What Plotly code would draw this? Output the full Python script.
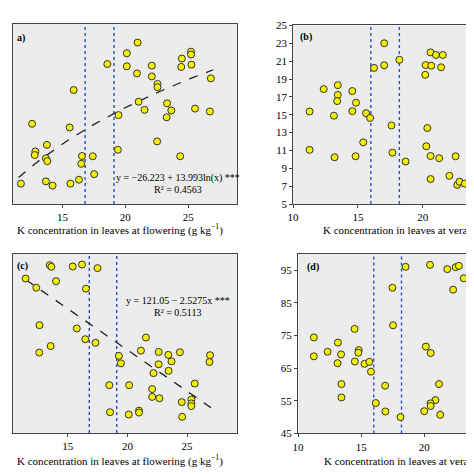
import numpy as np
import plotly.graph_objects as go

# Panel (a): K at flowering vs y (5-25 scale)
a_x = [20.98,20.12,20.12,18.57,20.93,22.11,22.11,22.56,22.56,24.50,24.45,25.23,25.23,25.26,26.81,15.89,21.06,21.53,19.46,23.32,23.66,23.29,25.55,26.73,12.58,15.57,13.76,12.84,12.79,13.68,13.79,16.55,17.41,16.49,19.41,22.53,24.37,17.52,16.31,15.63,13.68,14.21,11.69]
a_y = [22.91,21.72,20.28,20.53,19.49,20.35,19.16,18.33,17.97,21.14,20.21,21.90,21.58,20.46,18.95,17.65,16.35,15.45,14.87,16.17,15.38,14.62,15.59,15.27,13.90,13.50,11.56,10.84,10.44,10.08,9.76,10.33,10.30,9.47,11.02,11.95,10.30,8.32,7.70,7.27,7.52,7.05,7.27]
# Panel (b): K at veraison
b_x = [11.27,11.27,12.36,13.45,13.45,13.40,13.15,13.20,14.57,14.85,14.57,15.63,15.94,15.41,14.82,16.24,17.03,17.03,18.20,17.59,17.66,18.68,20.23,20.61,21.02,21.55,20.66,21.42,20.20,20.36,20.28,20.61,21.27,22.54,20.61,22.06,22.67,22.84,23.25,23.81,24.21,24.21]
b_y = [15.36,11.07,17.87,18.31,17.22,16.53,14.89,10.24,17.65,16.35,15.40,15.18,14.64,11.91,10.35,20.24,23.0,20.53,21.15,13.80,10.75,9.76,20.56,21.98,21.69,21.69,20.49,20.31,19.47,13.51,11.47,10.38,10.13,10.35,7.80,8.16,7.15,7.51,7.29,6.96,20.42,19.15]
# Panel (c): K at flowering vs 45-100 scale
c_x = [11.46,12.35,13.48,13.62,14.01,15.41,16.19,17.49,16.52,12.62,12.60,13.56,15.75,16.46,17.32,21.55,21.13,19.28,19.45,22.62,23.43,24.40,23.70,22.62,23.45,22.18,26.93,26.88,25.64,18.48,20.14,22.07,22.07,22.68,24.56,25.36,25.36,25.36,18.54,20.11,20.97,20.97,24.59]
c_y = [92.4,89.6,96.5,96.0,91.6,96.1,96.7,95.6,89.3,78.1,69.7,71.7,77.1,73.8,72.7,74.3,70.3,68.7,66.4,69.9,69.0,69.8,67.0,66.1,64.1,63.4,68.9,66.8,60.2,59.7,59.7,58.5,56.1,55.7,54.5,55.3,54.1,53.3,51.4,50.7,51.9,51.3,50.0]
# Panel (d): K at veraison
d_x = [11.25,11.25,12.34,13.16,13.13,13.41,13.44,13.44,14.48,14.81,14.78,14.50,15.27,15.65,15.78,16.16,16.90,16.92,17.48,17.53,18.12,18.52,20.46,21.83,22.29,22.49,22.75,23.13,23.64,20.13,20.51,21.17,20.89,20.51,20.51,20.00,21.27,24.21,24.23]
d_y = [74.4,68.6,70.0,72.8,66.5,69.2,60.1,56.0,77.0,70.5,69.7,67.0,66.3,66.9,63.9,54.3,59.6,51.7,89.6,78.1,50.0,96.0,96.6,95.3,89.0,95.9,96.3,92.5,91.4,71.6,69.6,60.1,55.2,54.2,53.4,51.8,50.7,63.8,56.1]

vlines_flow = [16.8, 19.1]
vlines_ver = [16.0, 18.2]
fit_a = (-26.223, 13.993)
fit_c = (121.05, -2.5275)

W = H = 474
fig = go.Figure()
panels = [
    dict(x=a_x, y=a_y, xr=[11.06, 28.9], yr=[5, 25], dom_x=[0, 227/W], dom_y=[1-195/H, 1-10/H], vl=vlines_flow, ylab=False, yt=None),
    dict(x=b_x, y=b_y, xr=[10, 24.5], yr=[5, 25], dom_x=[283.7/W, 1], dom_y=[1-195/H, 1-11.7/H], vl=vlines_ver, ylab=True, yt=list(range(5, 26, 2))),
    dict(x=c_x, y=c_y, xr=[10.4, 29.2], yr=[45, 100], dom_x=[0, 227/W], dom_y=[1-430/H, 1-246/H], vl=vlines_flow, ylab=False, yt=None),
    dict(x=d_x, y=d_y, xr=[10, 24.5], yr=[45, 100], dom_x=[288.7/W, 1], dom_y=[1-430.3/H, 1-246/H], vl=vlines_ver, ylab=True, yt=list(range(45, 100, 10))),
]
font = dict(family="Liberation Serif", size=11, color="black")
sfont = dict(family="Liberation Serif", size=10, color="black")
layout = {}
for i, p in enumerate(panels, start=1):
    xa = "x" if i == 1 else f"x{i}"
    ya = "y" if i == 1 else f"y{i}"
    for v in p["vl"]:
        fig.add_trace(go.Scatter(x=[v, v], y=p["yr"], mode="lines", xaxis=xa, yaxis=ya,
                                 line=dict(color="#2a4fc8", dash="dot", width=1.4), showlegend=False, hoverinfo="skip"))
    if i == 1:
        xs = np.linspace(11.5, 27, 60)
        fig.add_trace(go.Scatter(x=xs, y=fit_a[0] + fit_a[1]*np.log(xs), mode="lines", xaxis=xa, yaxis=ya,
                                 line=dict(color="#222", dash="dash", width=1.3), showlegend=False))
    if i == 3:
        xs = np.array([11.5, 27])
        fig.add_trace(go.Scatter(x=xs, y=fit_c[0] + fit_c[1]*xs, mode="lines", xaxis=xa, yaxis=ya,
                                 line=dict(color="#222", dash="dash", width=1.3), showlegend=False))
    fig.add_trace(go.Scatter(x=p["x"], y=p["y"], mode="markers", xaxis=xa, yaxis=ya, showlegend=False,
                             marker=dict(size=7, color="#f5f000", line=dict(color="#333", width=1))))
    layout["xaxis" + ("" if i == 1 else str(i))] = dict(domain=p["dom_x"], range=p["xr"], anchor=ya,
        tickvals=[10, 15, 20, 25], ticks="outside", ticklen=3, showgrid=False, zeroline=False,
        showline=True, linecolor="#444", mirror=True, tickfont=font)
    layout["yaxis" + ("" if i == 1 else str(i))] = dict(domain=p["dom_y"], range=p["yr"], anchor=xa,
        tickvals=p["yt"], showticklabels=p["ylab"], ticks="outside" if p["ylab"] else "", ticklen=3,
        showgrid=False, zeroline=False, showline=True, linecolor="#444", mirror=True, tickfont=font)

ann = [
    dict(text="<b>a)</b>", x=2/W, y=1-25/H, xanchor="left", font=sfont),
    dict(text="<b>(b)</b>", x=289/W, y=1-24/H, xanchor="left", font=sfont),
    dict(text="<b>(c)</b>", x=2/W, y=1-259/H, xanchor="left", font=sfont),
    dict(text="<b>(d)</b>", x=296/W, y=1-260/H, xanchor="left", font=sfont),
    dict(text="y = −26.223 + 13.993ln(x) ***", x=167/W, y=1-168/H, xanchor="center", font=sfont),
    dict(text="R² = 0.4563", x=167/W, y=1-180/H, xanchor="center", font=sfont),
    dict(text="y = 121.05 − 2.5275x ***", x=167/W, y=1-294/H, xanchor="center", font=sfont),
    dict(text="R² = 0.5113", x=167/W, y=1-306/H, xanchor="center", font=sfont),
    dict(text="K concentration in leaves at flowering (g kg<sup>−1</sup>)", x=108/W, y=1-221/H, xanchor="center", font=font),
    dict(text="K concentration in leaves at veraison (g kg<sup>−1</sup>)", x=312/W, y=1-221/H, xanchor="left", font=font),
    dict(text="K concentration in leaves at flowering (g kg<sup>−1</sup>)", x=108/W, y=1-458/H, xanchor="center", font=font),
    dict(text="K concentration in leaves at veraison (g kg<sup>−1</sup>)", x=313/W, y=1-458/H, xanchor="left", font=font),
]
annotations = [dict(xref="paper", yref="paper", yanchor="middle", showarrow=False, **a) for a in ann]

fig.update_layout(width=W, height=H, margin=dict(l=0, r=0, t=0, b=0), paper_bgcolor="white",
                  plot_bgcolor="#ececec", annotations=annotations, **layout)
fig.write_html("out.html")
